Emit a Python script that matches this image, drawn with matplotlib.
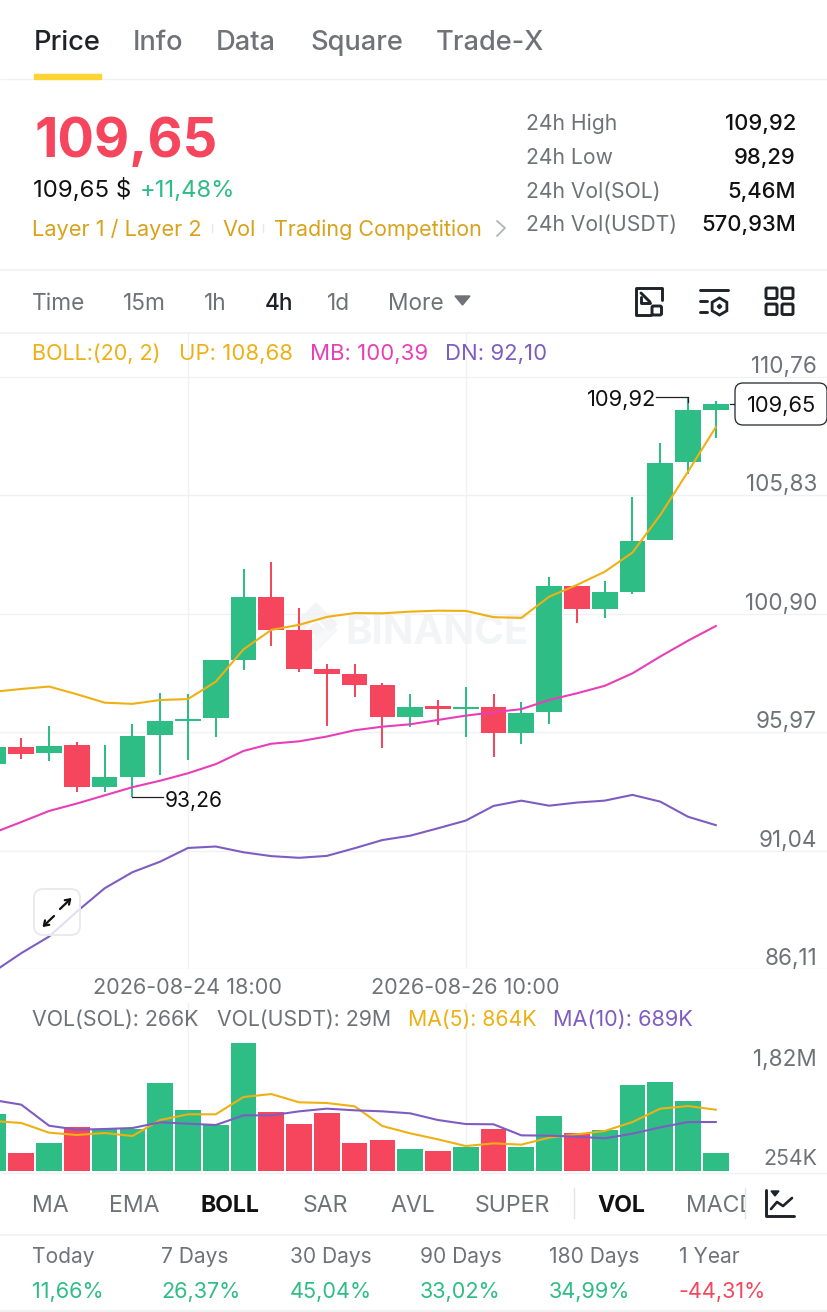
import matplotlib
matplotlib.use("Agg")
import matplotlib.pyplot as plt
from matplotlib.patches import FancyBboxPatch, Polygon, Rectangle, RegularPolygon

plt.rcParams["font.family"] = ["Inter", "DejaVu Sans"]

W, H = 828, 1312
GREEN = "#2ebd85"
RED = "#f6465d"
YELLOW = "#eeb014"
PINK = "#e83fb8"
PURPLE = "#7e5cc2"
GREY = "#76808f"
AXIS_GREY = "#6f7378"
LINE = "#f0f1f2"
GOLD = "#d9a21b"

# candles, oldest first
opens = [94.64, 95.36, 95.09, 95.43, 93.68, 94.12, 95.86, 96.45, 96.55, 98.99, 101.60, 100.23, 98.60, 98.38,
         97.94, 96.61, 97.03, 96.94, 97.02, 95.94, 96.80, 102.06, 101.10, 101.82, 103.96, 107.22, 109.40]
closes = [95.34, 95.08, 95.41, 93.68, 94.09, 95.83, 96.44, 96.53, 98.97, 101.60, 100.24, 98.60, 98.38, 97.94,
          96.61, 97.03, 96.95, 97.01, 95.94, 96.78, 102.06, 101.09, 101.80, 103.93, 107.19, 109.39, 109.65]
highs = [95.44, 95.72, 96.24, 95.55, 95.44, 96.31, 97.59, 97.56, 98.97, 102.77, 103.07, 101.13, 98.81, 98.81,
         98.03, 97.56, 97.31, 97.87, 97.56, 97.24, 102.45, 102.06, 102.28, 105.78, 108.00, 109.92, 109.77]
lows = [94.57, 94.84, 94.77, 93.48, 93.48, 93.26, 94.19, 94.81, 95.76, 98.57, 99.55, 98.49, 96.22, 97.45,
        95.33, 96.18, 96.26, 95.79, 94.95, 95.48, 96.30, 100.53, 100.71, 101.74, 103.96, 106.71, 108.21]

boll_up = [97.65, 97.77, 97.87, 97.55, 97.20, 97.15, 97.31, 97.35, 98.07, 99.42, 100.23, 100.44, 100.77, 100.93,
           100.92, 100.99, 101.03, 101.02, 100.76, 100.73, 101.61, 102.10, 102.65, 103.45, 105.01, 106.82, 108.67]
boll_mb = [91.78, 92.23, 92.69, 93.00, 93.34, 93.68, 93.95, 94.26, 94.64, 95.19, 95.49, 95.59, 95.79, 96.05,
           96.20, 96.30, 96.48, 96.66, 96.80, 96.93, 97.31, 97.59, 97.90, 98.42, 99.12, 99.78, 100.39]
boll_dn = [85.99, 86.77, 87.46, 88.50, 89.47, 90.14, 90.58, 91.15, 91.21, 90.97, 90.81, 90.74, 90.82, 91.14,
           91.48, 91.66, 91.97, 92.29, 92.90, 93.12, 92.91, 93.04, 93.12, 93.36, 93.08, 92.45, 92.10]

# volume in thousands
volumes = [826, 266, 406, 638, 614, 604, 1281, 885, 667, 1861, 856, 686, 836, 411,
           450, 324, 290, 343, 604, 348, 802, 546, 590, 1252, 1290, 1020, 266]
vol_ma5 = [725, 696, 556, 522, 551, 507, 739, 822, 822, 1073, 1116, 996, 986, 938,
           652, 546, 459, 362, 401, 382, 483, 532, 580, 710, 904, 942, 889]
vol_ma10 = [1029, 962, 657, 599, 609, 623, 706, 686, 667, 807, 807, 865, 904, 880,
            865, 836, 739, 681, 677, 517, 512, 498, 474, 541, 633, 710, 710]

price_ticks = [110.76, 105.83, 100.90, 95.97, 91.04, 86.11]
price_tick_labels = ["110,76", "105,83", "100,90", "95,97", "91,04", "86,11"]
time_ticks = [7, 17]
time_labels = ["2026-08-24 18:00", "2026-08-26 10:00"]

tabs = [("Price", 34), ("Info", 133), ("Data", 216), ("Square", 310), ("Trade-X", 436)]
stats_24h = [("24h High", "109,92"), ("24h Low", "98,29"), ("24h Vol(SOL)", "5,46M"), ("24h Vol(USDT)", "570,93M")]
intervals = [("Time", 32), ("15m", 123), ("1h", 204), ("4h", 265), ("1d", 327), ("More", 388)]
indicators = [("MA", 32), ("EMA", 109), ("BOLL", 201), ("SAR", 303), ("AVL", 390), ("SUPER", 475), ("VOL", 597)]
periods = [("Today", "11,66%", 32), ("7 Days", "26,37%", 161), ("30 Days", "45,04%", 290),
           ("90 Days", "33,02%", 420), ("180 Days", "34,99%", 549), ("1 Year", "-44,31%", 679)]


def px_axes(x0, y0, x1, y1, zorder):
    return fig.add_axes([x0 / W, 1 - y1 / H, (x1 - x0) / W, (y1 - y0) / H], zorder=zorder)


def txt(ax, x, y, s, size=15, color=GREY, ha="left", weight="normal", **kw):
    return ax.text(x, y, s, fontsize=size, color=color, ha=ha, va="baseline", fontweight=weight, **kw)


def hline(ax, y, x0=0, x1=W, lw=1.0, color=LINE):
    ax.plot([x0, x1], [y, y], color=color, lw=lw, solid_capstyle="butt")


def stroke(ax, xs, ys, lw=2.1, color="#1e2329"):
    ax.plot(xs, ys, color=color, lw=lw, solid_capstyle="round", solid_joinstyle="round")


fig = plt.figure(figsize=(W / 100, H / 100), dpi=100, facecolor="white")

# back layer in screen pixels, watermark and dividers
bg = px_axes(0, 0, W, H, 0)
bg.set_xlim(0, W)
bg.set_ylim(H, 0)
bg.axis("off")

for y, lw in [(79, 1.0), (270, 1.2), (333, 1.2), (1173, 1.0), (1235, 1.2), (1311, 1.6)]:
    hline(bg, y, lw=lw)

txt(bg, 345, 644, "BINANCE", size=29, color="#f3f4f5", weight="bold")
bg.add_patch(Polygon([(316, 603), (337, 624), (330, 631), (316, 617), (302, 631), (295, 624)], color="#f3f4f5"))
bg.add_patch(Polygon([(316, 622), (323, 629), (316, 636), (309, 629)], color="#f3f4f5"))
bg.add_patch(Polygon([(337, 630), (330, 637), (316, 651), (309, 644), (330, 623)], color="#f3f4f5", alpha=0.6))

# price panel, x axis runs on candle index
x_left = 6.5 / 27.78
x_right = (W + 6.5) / 27.78
idx = list(range(len(opens)))

ax = px_axes(0, 333, W, 969, 1)
ax.patch.set_visible(False)
ax.set_xlim(x_left, x_right)
ax.set_ylim(86.11, 110.76 + (377 - 333) / 24.02)
for s in ax.spines.values():
    s.set_visible(False)
ax.set_yticks(price_ticks)
ax.set_xticks(time_ticks)
ax.tick_params(length=0, labelleft=False, labelbottom=False)
ax.grid(True, color=LINE, lw=1.0)
ax.set_axisbelow(True)

for i in idx:
    color = GREEN if closes[i] >= opens[i] else RED
    ax.plot([i, i], [lows[i], highs[i]], color=color, lw=1.45, solid_capstyle="butt", zorder=2)
    bottom = min(opens[i], closes[i])
    height = max(abs(closes[i] - opens[i]), 0.09)
    ax.bar(i, height, bottom=bottom, width=0.925, color=color, linewidth=0, zorder=3)

ax.plot(idx, boll_up, color=YELLOW, lw=1.5, zorder=4)
ax.plot(idx, boll_mb, color=PINK, lw=1.5, zorder=4)
ax.plot(idx, boll_dn, color=PURPLE, lw=1.5, zorder=4)

# high and low callouts
hi_i = highs.index(max(highs))
lo_i = lows.index(min(lows))
ax.plot([hi_i - 1.15, hi_i, hi_i], [highs[hi_i], highs[hi_i], highs[hi_i] - 0.2], color="#222222", lw=0.9, zorder=5)
ax.plot([lo_i, lo_i + 1.1], [lows[lo_i], lows[lo_i]], color="#222222", lw=0.9, zorder=5)

# last price dash
ax.plot([len(opens) - 0.5, len(opens) - 0.28], [closes[-1], closes[-1]], color="#222222", lw=0.9, zorder=5)

# volume panel
vol = px_axes(0, 1003, W, 1171, 1)
vol.patch.set_visible(False)
vol.set_xlim(x_left, x_right)
vol.set_ylim(0, 168 * 14.5)
for s in vol.spines.values():
    s.set_visible(False)
vol.set_xticks(time_ticks)
vol.set_yticks([])
vol.tick_params(length=0, labelbottom=False)
vol.grid(True, axis="x", color=LINE, lw=1.0)
vol.set_axisbelow(True)
vol_colors = [GREEN if c >= o else RED for o, c in zip(opens, closes)]
vol.bar(idx, volumes, width=0.925, color=vol_colors, linewidth=0, zorder=2)
vol.plot(idx, vol_ma5, color=YELLOW, lw=1.5, zorder=3)
vol.plot(idx, vol_ma10, color=PURPLE, lw=1.5, zorder=3)

# front layer, all the app text
ui = px_axes(0, 0, W, H, 5)
ui.patch.set_visible(False)
ui.set_xlim(0, W)
ui.set_ylim(H, 0)
ui.axis("off")

for i, (name, x) in enumerate(tabs):
    txt(ui, x, 50, name, size=19.6, color="#1e2329" if i == 0 else AXIS_GREY, weight="medium")
ui.add_patch(Rectangle((34, 74), 67, 5, color="#fcd535"))

txt(ui, 35, 157, "109,65", size=39, color=RED, weight="bold")
txt(ui, 33, 197, "109,65 $", size=17.3, color="#111111")
txt(ui, 140, 197, "+11,48%", size=17.1, color=GREEN)

txt(ui, 32, 236, "Layer 1 / Layer 2", size=15.7, color=GOLD)
txt(ui, 222, 236, "Vol", size=15.7, color=GOLD)
txt(ui, 274, 236, "Trading Competition", size=15.5, color=GOLD)
ui.plot([212, 212], [224, 232], color="#e8e8e8", lw=1)
ui.plot([263, 263], [224, 232], color="#e8e8e8", lw=1)
stroke(ui, [497, 505, 497], [221, 228, 236], lw=1.3, color="#b0b4ba")

for (name, value), y in zip(stats_24h, [130, 164, 198, 231]):
    txt(ui, 526, y, name, size=15.2, color=AXIS_GREY)
    txt(ui, 796, y, value, size=15.8, color="#111111", ha="right", weight="medium")

for name, x in intervals:
    txt(ui, x, 310, name, size=16.3, color="#1e2329" if name == "4h" else AXIS_GREY, weight="medium" if name == "4h" else "normal")
ui.add_patch(Polygon([(455, 296), (470, 296), (462.5, 305)], color=AXIS_GREY))

# top right icons
stroke(ui, [651, 636, 636, 662, 662], [315, 315, 288, 288, 300])
ui.add_patch(FancyBboxPatch((652, 306), 9.5, 9, boxstyle="round,pad=0,rounding_size=1.5", fc="none", ec="#1e2329", lw=2.1))
stroke(ui, [641, 650], [293, 302])
stroke(ui, [641, 641, 650], [297, 303, 303])
stroke(ui, [700, 728], [290, 290])
stroke(ui, [700, 707], [301, 301])
stroke(ui, [700, 707], [312, 312])
ui.add_patch(RegularPolygon((719.5, 306.5), 6, radius=8.5, fc="none", ec="#1e2329", lw=2.0))
ui.add_patch(RegularPolygon((719.5, 306.5), 4, radius=2.2, color="#1e2329"))
for bx in (766, 782):
    for by in (288, 304):
        ui.add_patch(FancyBboxPatch((bx, by), 11, 10.5, boxstyle="round,pad=0,rounding_size=1.5", fc="none", ec="#1e2329", lw=2.1))

# indicator legends
txt(ui, 32, 360, "BOLL:(20, 2)", size=15.5, color=YELLOW)
txt(ui, 179, 360, "UP: 108,68", size=15.9, color=YELLOW)
txt(ui, 310, 360, "MB: 100,39", size=15.9, color=PINK)
txt(ui, 445, 360, "DN: 92,10", size=15.9, color=PURPLE)

txt(ui, 32, 1026, "VOL(SOL): 266K", size=15.4, color=AXIS_GREY)
txt(ui, 217, 1026, "VOL(USDT): 29M", size=15.3, color=AXIS_GREY)
txt(ui, 408, 1026, "MA(5): 864K", size=15.3, color=YELLOW)
txt(ui, 553, 1026, "MA(10): 689K", size=15.6, color=PURPLE)

# axis labels, placed from the data values
for val, label in zip(price_ticks, price_tick_labels):
    ax.annotate(label, xy=(1, val), xycoords=("axes fraction", "data"), xytext=(-11, 4), textcoords="offset pixels",
                ha="right", va="baseline", fontsize=16.2, color=AXIS_GREY, zorder=6, annotation_clip=False)
for i, label in zip(time_ticks, time_labels):
    txt(ui, i * 27.78 - 6.5, 994, label, size=15.6, color=AXIS_GREY, ha="center")
txt(ui, 817, 1066, "1,82M", size=16.2, color=AXIS_GREY, ha="right")
txt(ui, 817, 1165, "254K", size=15.3, color=AXIS_GREY, ha="right")

# callout texts and the boxed last price
txt(ui, 656, 406, "109,92", size=15.8, color="#111111", ha="right")
txt(ui, 165, 807, "93,26", size=15.2, color="#111111")
ui.add_patch(FancyBboxPatch((735, 383), 92, 42, boxstyle="round,pad=0,rounding_size=8", fc="white", ec="#1e2329", lw=0.9))
txt(ui, 782, 412, "109,65", size=15.8, color="#111111", ha="center")

# expand button
ui.add_patch(FancyBboxPatch((34, 889), 46, 46, boxstyle="round,pad=0,rounding_size=9", fc=(1, 1, 1, 0.8), ec="#e9eaec", lw=1.4))
for start, end in [((60, 909), (71.5, 898)), ((54, 916), (42.5, 927))]:
    ui.annotate("", xy=end, xytext=start, arrowprops=dict(arrowstyle="->,head_length=0.32,head_width=0.22", lw=1.6, color="#111111", shrinkA=0, shrinkB=0))

# indicator row
for name, x in indicators:
    bold = name in ("BOLL", "VOL")
    txt(ui, x, 1212, name, size=16.6, color="#111111" if bold else AXIS_GREY, weight="bold" if bold else "normal")
macd = txt(ui, 686, 1212, "MACD", size=16.6, color=AXIS_GREY)
macd.set_clip_on(True)
macd.set_clip_path(Rectangle((680, 1180), 65, 50, transform=ui.transData))
ui.plot([574.5, 574.5], [1188, 1218], color="#e4e5e7", lw=1)
ui.plot([745, 745], [1188, 1218], color="#e4e5e7", lw=1)
stroke(ui, [766, 766, 794], [1190, 1216, 1216])
stroke(ui, [771, 777, 783, 792], [1209, 1202, 1206, 1198], lw=1.9)
ui.add_patch(Polygon([(771, 1191), (779, 1191), (775, 1196)], color="#1e2329"))

# change over periods
for name, value, x in periods:
    txt(ui, x, 1263, name, size=15.1, color=AXIS_GREY)
    txt(ui, x, 1298, value, size=15.6, color=RED if value.startswith("-") else GREEN)

fig.savefig("out.png", dpi=100)
